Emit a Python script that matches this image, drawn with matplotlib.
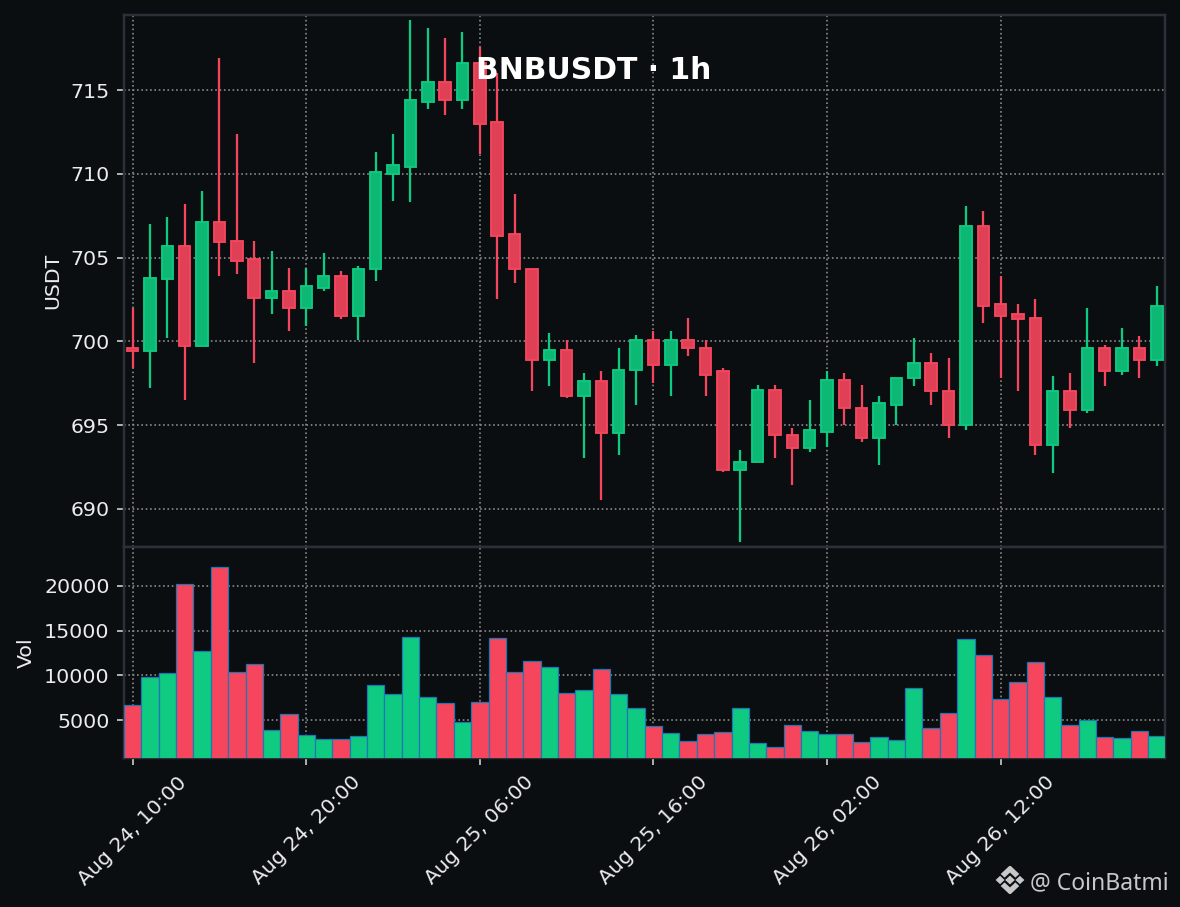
import matplotlib
matplotlib.use("Agg")
import matplotlib.pyplot as plt
import matplotlib.dates as mdates
from matplotlib.patches import Polygon
import numpy as np
import pandas as pd

# hourly candles, Aug 24 10:00 -> Aug 26 21:00
START = "2025-08-24 10:00"
opens = [699.6, 699.4, 703.7, 705.7, 699.7, 707.1, 706.0, 704.9, 702.6, 703.0,
         702.0, 703.2, 703.9, 701.5, 704.3, 710.0, 710.4, 714.3, 715.5, 714.4,
         716.6, 713.1, 706.4, 704.3, 698.9, 699.5, 696.7, 697.6, 694.5, 698.3,
         700.1, 698.6, 700.1, 699.6, 698.2, 692.3, 692.8, 697.1, 694.4, 693.6,
         694.6, 697.7, 696.0, 694.2, 696.2, 697.8, 698.7, 697.0, 695.0, 706.9,
         702.2, 701.6, 701.4, 693.8, 697.0, 695.9, 699.6, 698.2, 699.6, 698.9]
highs = [702.0, 707.0, 707.4, 708.2, 709.0, 716.9, 712.4, 706.0, 705.4, 704.4,
         704.4, 705.3, 704.2, 704.5, 711.3, 712.4, 719.2, 718.7, 718.1, 718.5,
         717.6, 716.0, 708.8, 704.3, 700.5, 700.1, 698.1, 698.2, 699.6, 700.4,
         700.6, 700.6, 701.4, 700.1, 698.4, 693.5, 697.4, 697.4, 694.8, 696.5,
         698.2, 698.1, 697.4, 696.7, 697.8, 700.2, 699.3, 699.0, 708.1, 707.8,
         703.9, 702.2, 702.5, 697.9, 698.1, 702.0, 699.8, 700.8, 700.3, 703.3]
lows = [698.4, 697.2, 700.2, 696.5, 699.7, 703.9, 704.0, 698.7, 701.6, 700.6,
        700.9, 703.0, 701.3, 700.1, 703.6, 708.4, 708.3, 713.9, 713.5, 713.9,
        711.2, 702.5, 703.5, 697.0, 697.3, 696.6, 693.0, 690.5, 693.2, 696.2,
        697.5, 696.7, 699.1, 696.7, 692.2, 688.0, 692.8, 693.0, 691.4, 693.4,
        693.7, 695.0, 694.0, 692.6, 695.0, 697.3, 696.2, 694.2, 694.7, 701.1,
        697.8, 697.0, 693.2, 692.1, 694.8, 695.7, 697.3, 698.0, 697.8, 698.5]
closes = [699.4, 703.8, 705.7, 699.7, 707.1, 705.9, 704.8, 702.6, 703.0, 702.0,
          703.3, 703.9, 701.5, 704.3, 710.1, 710.5, 714.4, 715.5, 714.4, 716.6,
          713.0, 706.3, 704.3, 698.9, 699.5, 696.7, 697.6, 694.5, 698.3, 700.1,
          698.6, 700.1, 699.6, 698.0, 692.3, 692.8, 697.1, 694.4, 693.6, 694.7,
          697.7, 696.0, 694.2, 696.3, 697.8, 698.7, 697.0, 695.0, 706.9, 702.1,
          701.5, 701.3, 693.8, 697.0, 695.9, 699.6, 698.2, 699.6, 698.9, 702.1]
volumes = [6640, 9810, 10220, 20190, 12690, 22090, 10340, 11230, 3850, 5640,
           3290, 2840, 2840, 3170, 8880, 7870, 14250, 7540, 6870, 4740,
           6980, 14140, 10340, 11640, 10900, 7990, 8320, 10670, 7870, 6310,
           4290, 3510, 2610, 3400, 3620, 6310, 2390, 1940, 4410, 3730,
           3400, 3400, 2500, 3060, 2730, 8550, 4070, 5750, 14030, 12240,
           7320, 9220, 11460, 7540, 4410, 4960, 3060, 2950, 3730, 3170]

BG = "#0b0e11"
UP = "#0ecb81"
DOWN = "#f6465d"
TXT = "#eaecef"
SPINE = "#2b3139"

o = np.array(opens)
h = np.array(highs)
l = np.array(lows)
c = np.array(closes)
times = pd.date_range(START, periods=len(opens), freq="h")
x = mdates.date2num(times)
w = 1 / 24
up = c >= o
cols = [UP if u else DOWN for u in up]

fig = plt.figure(figsize=(8, 6.15), dpi=147.5, facecolor=BG)
gs = fig.add_gridspec(2, 1, height_ratios=[532, 211], hspace=0,
                      left=0.1051, right=0.9877, top=0.9835, bottom=0.164)
ax = fig.add_subplot(gs[0])
axv = fig.add_subplot(gs[1], sharex=ax)

for a in (ax, axv):
    a.set_facecolor(BG)
    for s in a.spines.values():
        s.set_color(SPINE)
        s.set_linewidth(1.2)
    a.grid(True, linestyle=":", color="#8c8c8c", linewidth=0.8)
    a.set_axisbelow(True)
    a.tick_params(colors="#d0d0d0", labelcolor=TXT, labelsize=10)

# candles
ax.vlines(x, l, h, colors=cols, linewidth=1.1, zorder=2)
body_h = np.maximum(np.abs(c - o), 0.12)
body_b = np.minimum(o, c)
face = [(0.05, 0.72, 0.46) if u else (0.875, 0.25, 0.335) for u in up]
ax.bar(x, body_h, bottom=body_b, width=w * 0.66, color=face,
       edgecolor=cols, linewidth=0.9, zorder=3)
ax.set_ylim(687.7, 719.5)
ax.set_ylabel("USDT", color=TXT, fontsize=10)
ax.tick_params(axis="x", length=0, labelbottom=False)

# volume
axv.bar(x, volumes, width=w, color=cols, edgecolor="#1f77b4",
        linewidth=0.6, zorder=3)
axv.set_ylim(740, 24330)
axv.set_ylabel("Vol", color=TXT, fontsize=10)
axv.set_xlim(x[0] - 0.5 * w, x[-1] + 0.5 * w)
axv.set_xticks(x[::10])
axv.xaxis.set_major_formatter(mdates.DateFormatter("%b %d, %H:%M"))
plt.setp(axv.get_xticklabels(), rotation=45, ha="center")

fig.text(0.5034, 1 - 79 / 907, "BNBUSDT · 1h", ha="center", va="baseline",
         color="white", fontsize=14.6, fontweight="bold")

# watermark: small diamond logo + handle
la = fig.add_axes([995 / 1180, 1 - 894 / 907, 30 / 1180, 28 / 907])
la.set_xlim(-1, 1)
la.set_ylim(-1, 1)
la.axis("off")
gray = "#c8c8c8"
def diamond(cx, cy, r):
    la.add_patch(Polygon([(cx, cy + r), (cx + r, cy), (cx, cy - r), (cx - r, cy)],
                         closed=True, color=gray))
diamond(0, 0, 0.22)
diamond(-0.66, 0, 0.2)
diamond(0.66, 0, 0.2)
la.add_patch(Polygon([(0, 0.95), (0.52, 0.43), (0.36, 0.27), (0, 0.63),
                      (-0.36, 0.27), (-0.52, 0.43)], closed=True, color=gray))
la.add_patch(Polygon([(0, -0.95), (0.52, -0.43), (0.36, -0.27), (0, -0.63),
                      (-0.36, -0.27), (-0.52, -0.43)], closed=True, color=gray))
fig.text(1030 / 1180, 1 - 889 / 907, "@ CoinBatmi", ha="left", va="baseline",
         color=gray, fontsize=11.2, family=["Noto Sans", "DejaVu Sans"])

fig.savefig("out.png", dpi=147.5, facecolor=BG)
